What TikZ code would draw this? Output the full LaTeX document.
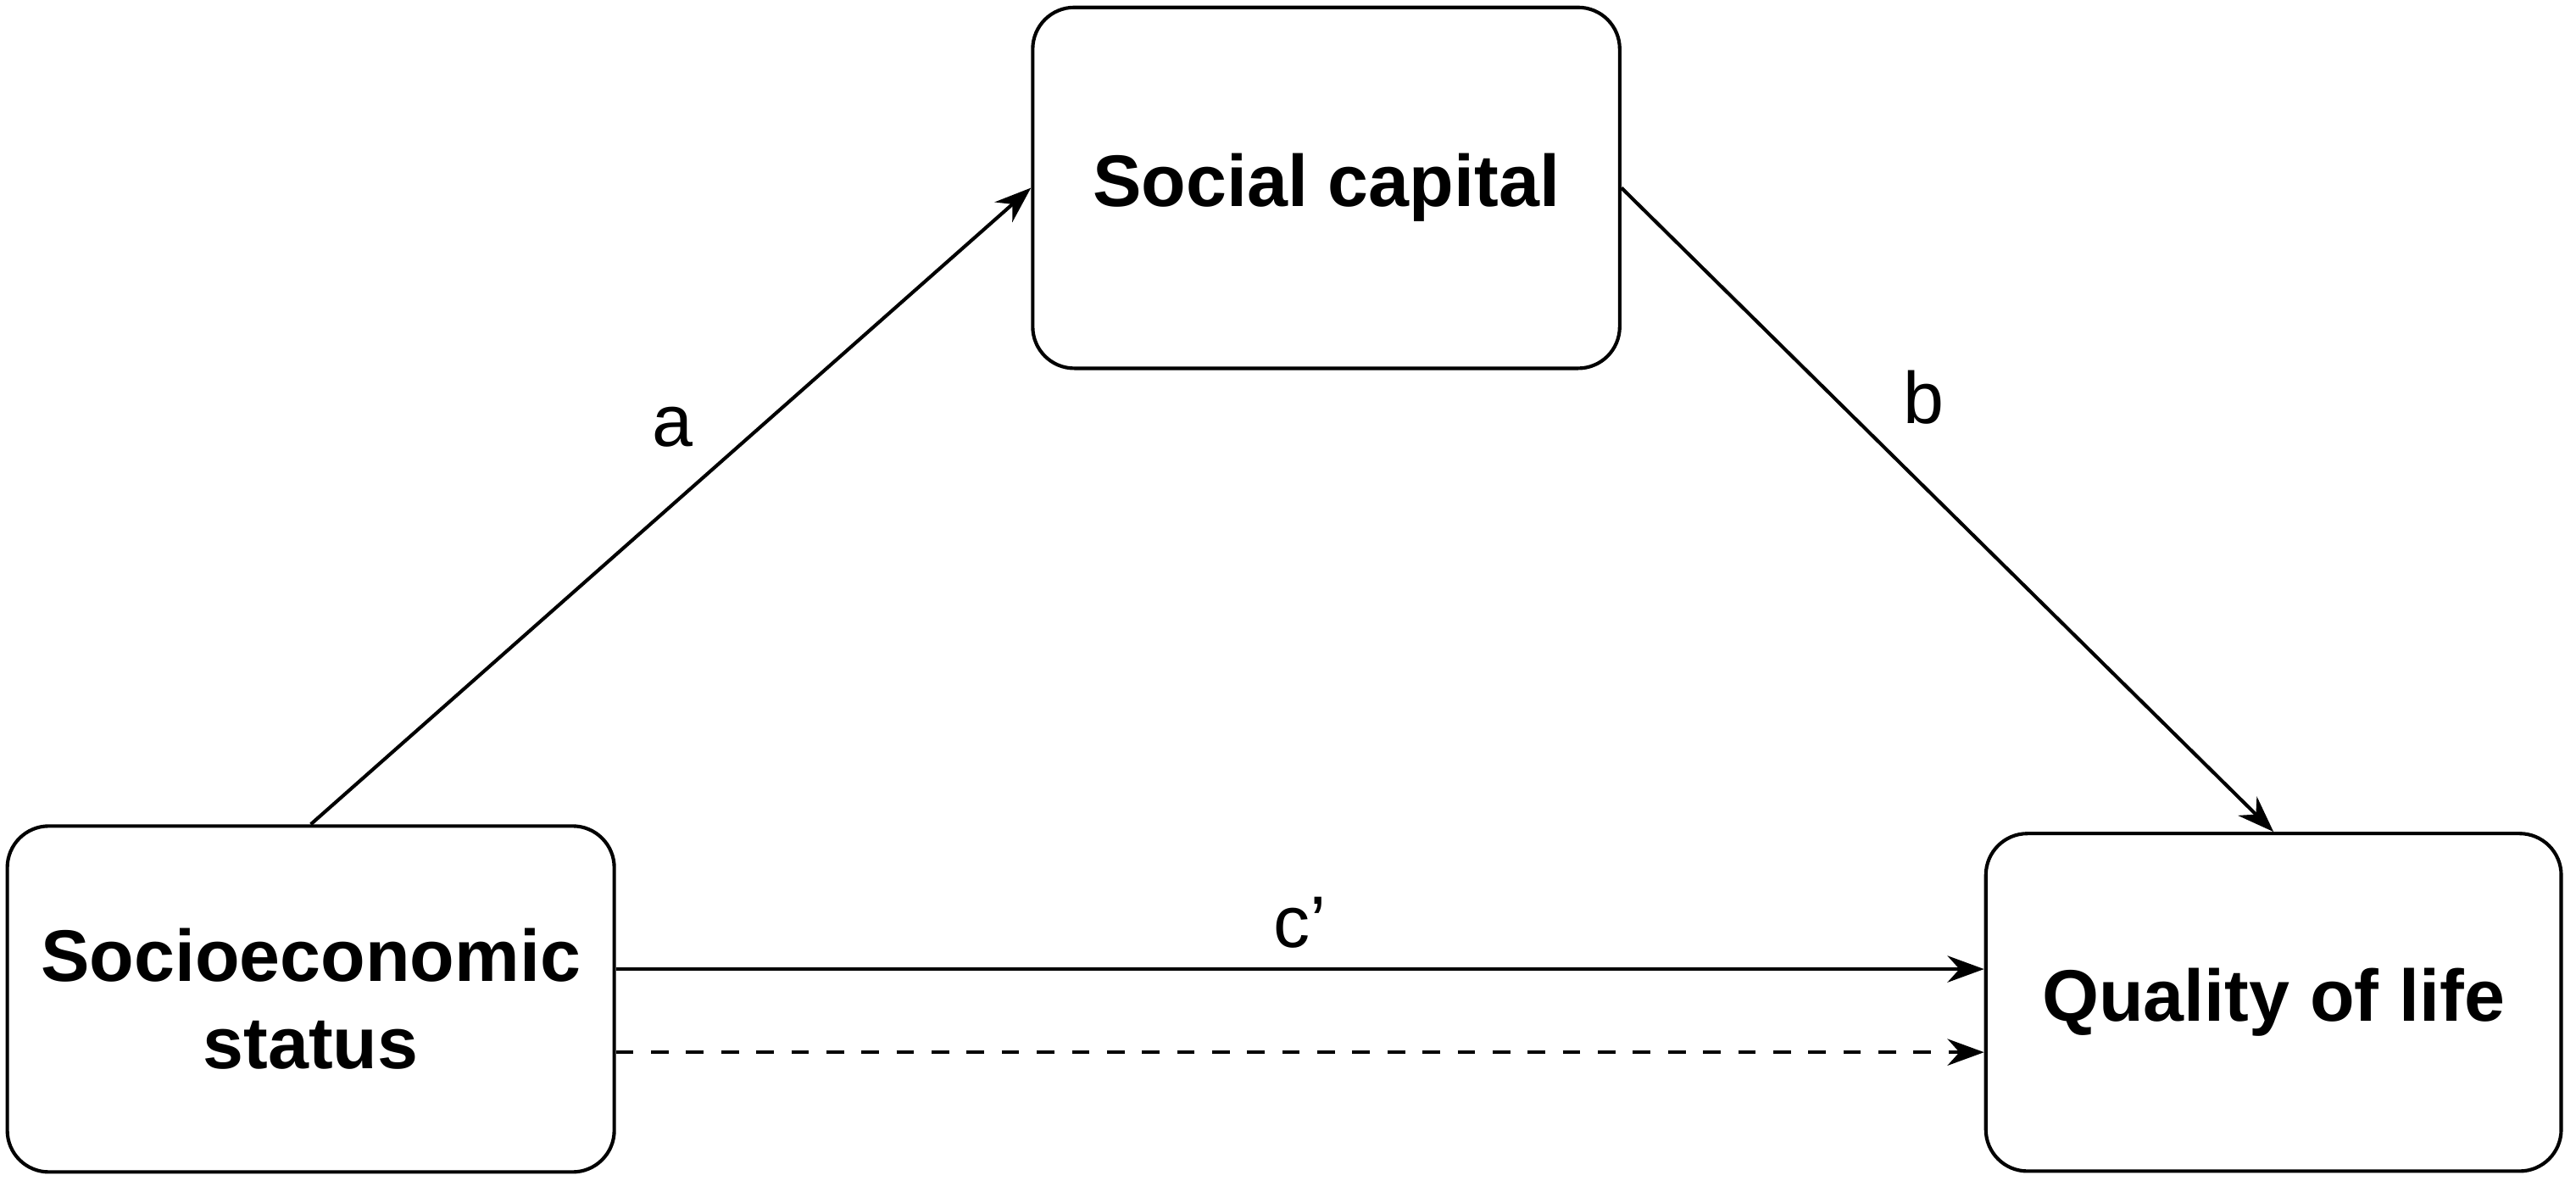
\documentclass[tikz,border=0pt]{standalone}
\usepackage{fontspec}
\setmainfont{Liberation Sans}
\usetikzlibrary{arrows.meta}

\begin{document}
\begin{tikzpicture}[x=0.01cm, y=-0.01cm,
          box/.style = {draw, rounded corners=0.25cm, line width=0.6pt, align=center, font=\bfseries\fontsize{12.5}{15}\selectfont},
          link/.style = {-{Stealth[length=0.22cm, width=0.16cm]}, line width=0.6pt},
          lab/.style = {font=\fontsize{12.5}{15}\selectfont}]
        \useasboundingbox (0,0) rectangle (1550,717);
        \node[box, minimum width=3.53cm, minimum height=2.17cm] (sc) at (798,113) {Social capital};
        \node[box, minimum width=3.65cm, minimum height=2.08cm] (ses) at (187,601) {Socioeconomic\\status};
        \node[box, minimum width=3.46cm, minimum height=2.03cm] (qol) at (1368,603) {Quality of life};
        \draw[link] (ses.north) -- node[lab, pos=0.56, above left] {a} (sc.west);
        \draw[link] (sc.east) -- node[lab, pos=0.4, above right] {b} (qol.north);
        \draw[link] ([yshift=0.18cm]ses.east) -- node[lab, above] {c'} ([yshift=0.18cm]ses.east -| qol.west);
        \draw[link, dashed] ([yshift=-0.32cm]ses.east) -- ([yshift=-0.32cm]ses.east -| qol.west);
      \end{tikzpicture}
\end{document}
